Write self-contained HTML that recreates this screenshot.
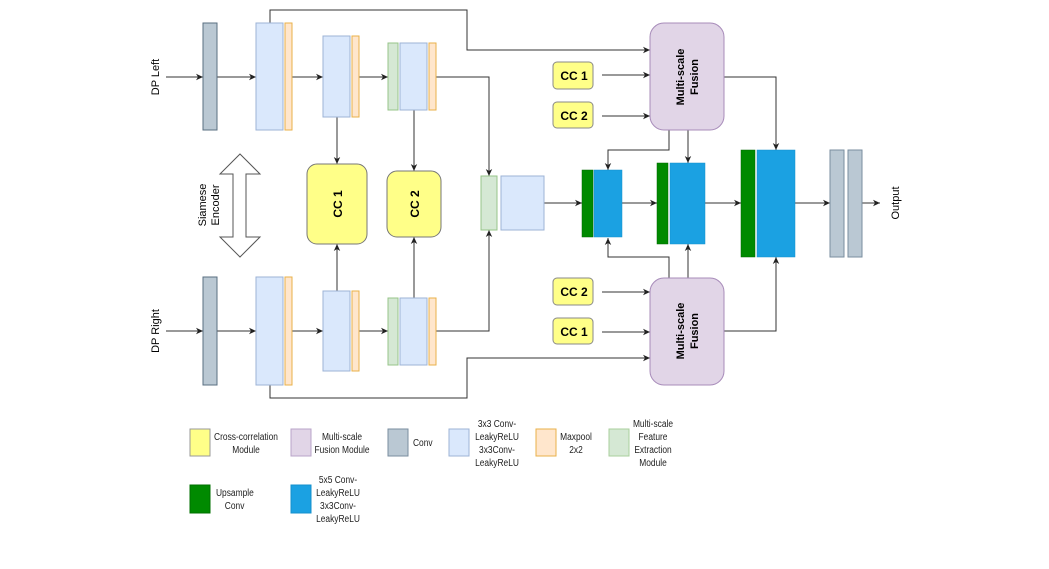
<!DOCTYPE html>
<html><head><meta charset="utf-8"><style>
html,body{margin:0;padding:0;background:#fff;}
svg{display:block;font-family:"Liberation Sans",sans-serif;}
</style></head><body>
<svg width="1049" height="569" viewBox="0 0 1049 569" xmlns="http://www.w3.org/2000/svg">
<defs>
<marker id="a" markerWidth="8" markerHeight="8" refX="7" refY="4" orient="auto" markerUnits="userSpaceOnUse">
<path d="M0,0.8 L7,4 L0,7.2 L2,4 Z" fill="#222"/></marker>
</defs>
<g fill="none" stroke="#333" stroke-width="1">
<path d="M166,77 H203" marker-end="url(#a)"/>
<path d="M217,77 H256" marker-end="url(#a)"/>
<path d="M292,77 H323" marker-end="url(#a)"/>
<path d="M359,77 H388" marker-end="url(#a)"/>
<path d="M436,77 H489 V176" marker-end="url(#a)"/>
<path d="M270,23 V10 H467 V50 H650" marker-end="url(#a)"/>
<path d="M337,117 V164" marker-end="url(#a)"/>
<path d="M414,110 V171" marker-end="url(#a)"/>
<path d="M166,331 H203" marker-end="url(#a)"/>
<path d="M217,331 H256" marker-end="url(#a)"/>
<path d="M292,331 H323" marker-end="url(#a)"/>
<path d="M359,331 H388" marker-end="url(#a)"/>
<path d="M436,331 H489 V230" marker-end="url(#a)"/>
<path d="M270,385 V398 H467 V358 H650" marker-end="url(#a)"/>
<path d="M337,291 V244" marker-end="url(#a)"/>
<path d="M414,298 V237" marker-end="url(#a)"/>
<path d="M602,75 H650" marker-end="url(#a)"/>
<path d="M602,116 H650" marker-end="url(#a)"/>
<path d="M602,292 H650" marker-end="url(#a)"/>
<path d="M602,332 H650" marker-end="url(#a)"/>
<path d="M544,203 H582" marker-end="url(#a)"/>
<path d="M622,203 H657" marker-end="url(#a)"/>
<path d="M705,203 H741" marker-end="url(#a)"/>
<path d="M795,203 H830" marker-end="url(#a)"/>
<path d="M862,203 H880" marker-end="url(#a)"/>
<path d="M724,77 H776 V150" marker-end="url(#a)"/>
<path d="M724,331 H776 V257" marker-end="url(#a)"/>
<path d="M688,130 V163" marker-end="url(#a)"/>
<path d="M688,278 V244" marker-end="url(#a)"/>
<path d="M669,130 V150 H608 V170" marker-end="url(#a)"/>
<path d="M669,278 V257 H608 V238" marker-end="url(#a)"/>
</g>
<rect x="203" y="23" width="14" height="107" fill="#bac8d3" stroke="#5a6f82"/>
<rect x="256" y="23" width="27" height="107" fill="#dae8fc" stroke="#9db3d6"/>
<rect x="285" y="23" width="7" height="107" fill="#ffe6cc" stroke="#e8b04a"/>
<rect x="323" y="36" width="27" height="81" fill="#dae8fc" stroke="#9db3d6"/>
<rect x="352" y="36" width="7" height="81" fill="#ffe6cc" stroke="#e8b04a"/>
<rect x="388" y="43" width="10" height="67" fill="#d5e8d4" stroke="#97c48a"/>
<rect x="400" y="43" width="27" height="67" fill="#dae8fc" stroke="#9db3d6"/>
<rect x="429" y="43" width="7" height="67" fill="#ffe6cc" stroke="#e8b04a"/>
<rect x="203" y="277" width="14" height="108" fill="#bac8d3" stroke="#5a6f82"/>
<rect x="256" y="277" width="27" height="108" fill="#dae8fc" stroke="#9db3d6"/>
<rect x="285" y="277" width="7" height="108" fill="#ffe6cc" stroke="#e8b04a"/>
<rect x="323" y="291" width="27" height="80" fill="#dae8fc" stroke="#9db3d6"/>
<rect x="352" y="291" width="7" height="80" fill="#ffe6cc" stroke="#e8b04a"/>
<rect x="388" y="298" width="10" height="67" fill="#d5e8d4" stroke="#97c48a"/>
<rect x="400" y="298" width="27" height="67" fill="#dae8fc" stroke="#9db3d6"/>
<rect x="429" y="298" width="7" height="67" fill="#ffe6cc" stroke="#e8b04a"/>
<rect x="307" y="164" width="60" height="80" rx="10" fill="#ffff88" stroke="#777"/>
<rect x="387" y="171" width="54" height="66" rx="10" fill="#ffff88" stroke="#777"/>
<text transform="translate(342,204) rotate(-90)" text-anchor="middle" font-size="12" font-weight="bold">CC 1</text>
<text transform="translate(419,204) rotate(-90)" text-anchor="middle" font-size="12" font-weight="bold">CC 2</text>
<path d="M240,154 L260,174 L246,174 L246,237 L260,237 L240,257 L220,237 L233,237 L233,174 L220,174 Z" fill="#fff" stroke="#555"/>
<text transform="translate(208,205) rotate(-90)" text-anchor="middle" font-size="11"><tspan x="0" dy="-2">Siamese</tspan><tspan x="0" dy="13">Encoder</tspan></text>
<text transform="translate(159,77) rotate(-90)" text-anchor="middle" font-size="11">DP Left</text>
<text transform="translate(159,331) rotate(-90)" text-anchor="middle" font-size="11">DP Right</text>
<rect x="481" y="176" width="16" height="54" fill="#d5e8d4" stroke="#97c48a"/>
<rect x="501" y="176" width="43" height="54" fill="#dae8fc" stroke="#9db3d6"/>
<rect x="650" y="23" width="74" height="107" rx="14" fill="#e1d5e7" stroke="#a88cba"/>
<rect x="650" y="278" width="74" height="107" rx="14" fill="#e1d5e7" stroke="#a88cba"/>
<text transform="translate(687,77) rotate(-90)" text-anchor="middle" font-size="11" font-weight="bold"><tspan x="0" dy="-3">Multi-scale</tspan><tspan x="0" dy="14">Fusion</tspan></text>
<text transform="translate(687,331) rotate(-90)" text-anchor="middle" font-size="11" font-weight="bold"><tspan x="0" dy="-3">Multi-scale</tspan><tspan x="0" dy="14">Fusion</tspan></text>
<g fill="#ffff88" stroke="#888">
<rect x="553" y="62" width="40" height="27" rx="4"/>
<rect x="553" y="102" width="40" height="26" rx="4"/>
<rect x="553" y="278" width="40" height="27" rx="4"/>
<rect x="553" y="318" width="40" height="26" rx="4"/>
</g>
<g font-size="12" font-weight="bold" text-anchor="middle">
<text x="574" y="80">CC 1</text>
<text x="574" y="120">CC 2</text>
<text x="574" y="296">CC 2</text>
<text x="574" y="336">CC 1</text>
</g>
<rect x="582" y="170" width="11" height="67" fill="#008a00" stroke="#006600" stroke-width="0.5"/>
<rect x="594" y="170" width="28" height="67" fill="#1ba1e2" stroke="#1590cc" stroke-width="0.5"/>
<rect x="657" y="163" width="11" height="81" fill="#008a00" stroke="#006600" stroke-width="0.5"/>
<rect x="670" y="163" width="35" height="81" fill="#1ba1e2" stroke="#1590cc" stroke-width="0.5"/>
<rect x="741" y="150" width="14" height="107" fill="#008a00" stroke="#006600" stroke-width="0.5"/>
<rect x="757" y="150" width="38" height="107" fill="#1ba1e2" stroke="#1590cc" stroke-width="0.5"/>
<rect x="830" y="150" width="14" height="107" fill="#bac8d3" stroke="#7a8e9f"/>
<rect x="848" y="150" width="14" height="107" fill="#bac8d3" stroke="#7a8e9f"/>
<text transform="translate(899,203) rotate(-90)" text-anchor="middle" font-size="11">Output</text>
<rect x="190" y="429" width="20" height="27" fill="#ffff88" stroke="#999"/>
<rect x="291" y="429" width="20" height="27" fill="#e1d5e7" stroke="#b9a4c8"/>
<rect x="388" y="429" width="20" height="27" fill="#bac8d3" stroke="#7a8e9f"/>
<rect x="449" y="429" width="20" height="27" fill="#dae8fc" stroke="#9db3d6"/>
<rect x="536" y="429" width="20" height="27" fill="#ffe6cc" stroke="#e8b04a"/>
<rect x="609" y="429" width="20" height="27" fill="#d5e8d4" stroke="#a9cf9c"/>
<rect x="190" y="485" width="20" height="28" fill="#008a00" stroke="#007000"/>
<rect x="291" y="485" width="20" height="28" fill="#1ba1e2" stroke="#1590cc"/>
<g font-size="10.5" text-anchor="middle" fill="#222">
<g transform="translate(246,0) scale(0.8,1)"><text x="0" y="440">Cross-correlation</text><text x="0" y="453">Module</text></g>
<g transform="translate(342,0) scale(0.8,1)"><text x="0" y="440">Multi-scale</text><text x="0" y="453">Fusion Module</text></g>
<g transform="translate(413,0) scale(0.8,1)"><text x="0" y="446" text-anchor="start">Conv</text></g>
<g transform="translate(497,0) scale(0.8,1)"><text x="0" y="427">3x3 Conv-</text><text x="0" y="440">LeakyReLU</text><text x="0" y="453">3x3Conv-</text><text x="0" y="466">LeakyReLU</text></g>
<g transform="translate(576,0) scale(0.8,1)"><text x="0" y="440">Maxpool</text><text x="0" y="453">2x2</text></g>
<g transform="translate(653,0) scale(0.8,1)"><text x="0" y="427">Multi-scale</text><text x="0" y="440">Feature</text><text x="0" y="453">Extraction</text><text x="0" y="466">Module</text></g>
<g transform="translate(216,0) scale(0.8,1)"><text x="0" y="496" text-anchor="start">Upsample</text><text x="11" y="509" text-anchor="start">Conv</text></g>
<g transform="translate(338,0) scale(0.8,1)"><text x="0" y="483">5x5 Conv-</text><text x="0" y="496">LeakyReLU</text><text x="0" y="509">3x3Conv-</text><text x="0" y="522">LeakyReLU</text></g>
</g>
</svg>
</body></html>
